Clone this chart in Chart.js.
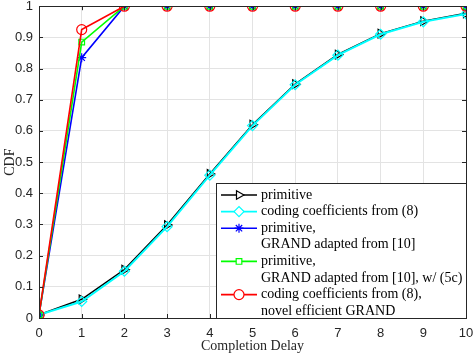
<!DOCTYPE html>
<html><head><meta charset="utf-8">
<script src="https://cdn.jsdelivr.net/npm/chart.js@4"></script>
<style>html,body{margin:0;padding:0;background:#fff}#wrap{width:474px;height:357px}</style>
</head><body><div id="wrap"><canvas id="c" width="474" height="357"></canvas></div>
<script>
const delays = [0,1,2,3,4,5,6,7,8,9,10];
const primitive = [0.01,0.06,0.155,0.298,0.462,0.62,0.75,0.845,0.912,0.952,0.977];
const codingCoeff = [0.01,0.053,0.15,0.293,0.458,0.617,0.748,0.843,0.91,0.95,0.975];
const primitiveGrand = [0.01,0.835,1,1,1,1,1,1,1,1,1];
const primitiveGrand5c = [0.01,0.885,1,1,1,1,1,1,1,1,1];
const codingNovelGrand = [0.01,0.925,1,1,1,1,1,1,1,1,1];
const xTicks = [0,1,2,3,4,5,6,7,8,9,10];
const yTicks = [0,0.1,0.2,0.3,0.4,0.5,0.6,0.7,0.8,0.9,1];
const legendLabels = [["primitive"],["coding coefficients from (8)"],["primitive,","GRAND adapted from [10]"],["primitive,","GRAND adapted from [10], w/ (5c)"],["coding coefficients from (8),","novel efficient GRAND"]];

function ds(i, data, color, style, rot, r, w){
  return {label:legendLabels[i].join(' '), order:4-i, data: data.map((v,k)=>({x:delays[k],y:v})), borderColor:color, backgroundColor:'rgba(0,0,0,0)',
    pointStyle:style, pointRotation:rot||0, pointRadius:r, pointBorderColor:color, pointBackgroundColor:'rgba(0,0,0,0)',
    pointBorderWidth:1.2, borderWidth:w, tension:0};
}
const datasets = [
  ds(0, primitive, '#000000','triangle',90,5,1.6),
  ds(1, codingCoeff, '#00FFFF','rectRot',0,5,2),
  ds(2, primitiveGrand, '#0000FF','star',0,4.5,1.6),
  ds(3, primitiveGrand5c, '#00FF00','rect',0,4,1.6),
  ds(4, codingNovelGrand, '#FF0000','circle',0,5,1.6),
];

const frame = {
  id:'frame',
  afterDraw(chart){
    const {ctx, chartArea:a, scales:{x,y}} = chart;
    ctx.save();
    ctx.strokeStyle='#262626'; ctx.lineWidth=1;
    ctx.beginPath();
    xTicks.forEach(t=>{const px=Math.round(x.getPixelForValue(t))+0.5; ctx.moveTo(px,a.bottom); ctx.lineTo(px,a.bottom-4); ctx.moveTo(px,a.top); ctx.lineTo(px,a.top+4);});
    yTicks.forEach(t=>{const py=Math.round(y.getPixelForValue(t))+0.5; ctx.moveTo(a.left,py); ctx.lineTo(a.left+4,py); ctx.moveTo(a.right,py); ctx.lineTo(a.right-4,py);});
    ctx.stroke();
    ctx.strokeRect(Math.round(a.left)+0.5, Math.round(a.top)+0.5, Math.round(a.right-a.left), Math.round(a.bottom-a.top));
    // legend
    const bw=250, lh=16.6, bh=135;
    const bx=Math.round(a.right)-bw, by=Math.round(a.bottom)-bh;
    ctx.fillStyle='#fff'; ctx.fillRect(bx,by,bw,bh);
    ctx.strokeStyle='#262626'; ctx.strokeRect(bx+0.5,by+0.5,bw,bh);
    ctx.font='14px "Liberation Serif", serif'; ctx.textBaseline='middle';
    let row=0;
    datasets.forEach((d,i)=>{
      const cy = by + 12 + row*lh;
      ctx.strokeStyle=d.borderColor; ctx.lineWidth=1.6;
      ctx.beginPath(); ctx.moveTo(bx+5,cy); ctx.lineTo(bx+41,cy); ctx.stroke();
      ctx.lineWidth=1.2; ctx.fillStyle='#fff';
      Chart.helpers.drawPoint(ctx,{pointStyle:d.pointStyle,rotation:d.pointRotation,radius:d.pointRadius,borderWidth:1.2},bx+23,cy);
      ctx.fillStyle='#000';
      legendLabels[i].forEach((t,j)=>{ctx.fillText(t,bx+45,cy+j*lh);});
      row += legendLabels[i].length;
    });
    ctx.restore();
  }
};

new Chart(document.getElementById('c'),{
  type:'line',
  data:{datasets},
  options:{
    responsive:false, animation:false, devicePixelRatio:1,
    layout:{padding:{top:6,right:8,left:2,bottom:0}},
    plugins:{legend:{display:false},tooltip:{enabled:false}},
    scales:{
      x:{type:'linear',min:0,max:10,
        afterBuildTicks(s){s.ticks=xTicks.map(v=>({value:v}));},
        afterFit(s){s.height=39; s.paddingLeft=0; s.paddingRight=0;},
        grid:{color:'#e3e3e3',drawTicks:false},border:{display:false},
        ticks:{padding:8,color:'#262626',font:{family:'"Liberation Sans", Arial, sans-serif',size:13},maxRotation:0,callback:v=>String(v)},
        title:{display:true,text:'Completion Delay',color:'#262626',padding:{top:0,bottom:2},font:{family:'"Liberation Serif", serif',size:14}}},
      y:{type:'linear',min:0,max:1,
        afterBuildTicks(s){s.ticks=yTicks.map(v=>({value:v}));},
        afterFit(s){s.width=37; s.paddingTop=0; s.paddingBottom=0;},
        grid:{color:'#e3e3e3',drawTicks:false},border:{display:false},
        ticks:{padding:6,color:'#262626',font:{family:'"Liberation Sans", Arial, sans-serif',size:13},callback:v=>String(Math.round(v*10)/10)},
        title:{display:true,text:'CDF',color:'#262626',padding:{top:0,bottom:0},font:{family:'"Liberation Serif", serif',size:14}}}
    }
  },
  plugins:[frame]
});
</script></body></html>
